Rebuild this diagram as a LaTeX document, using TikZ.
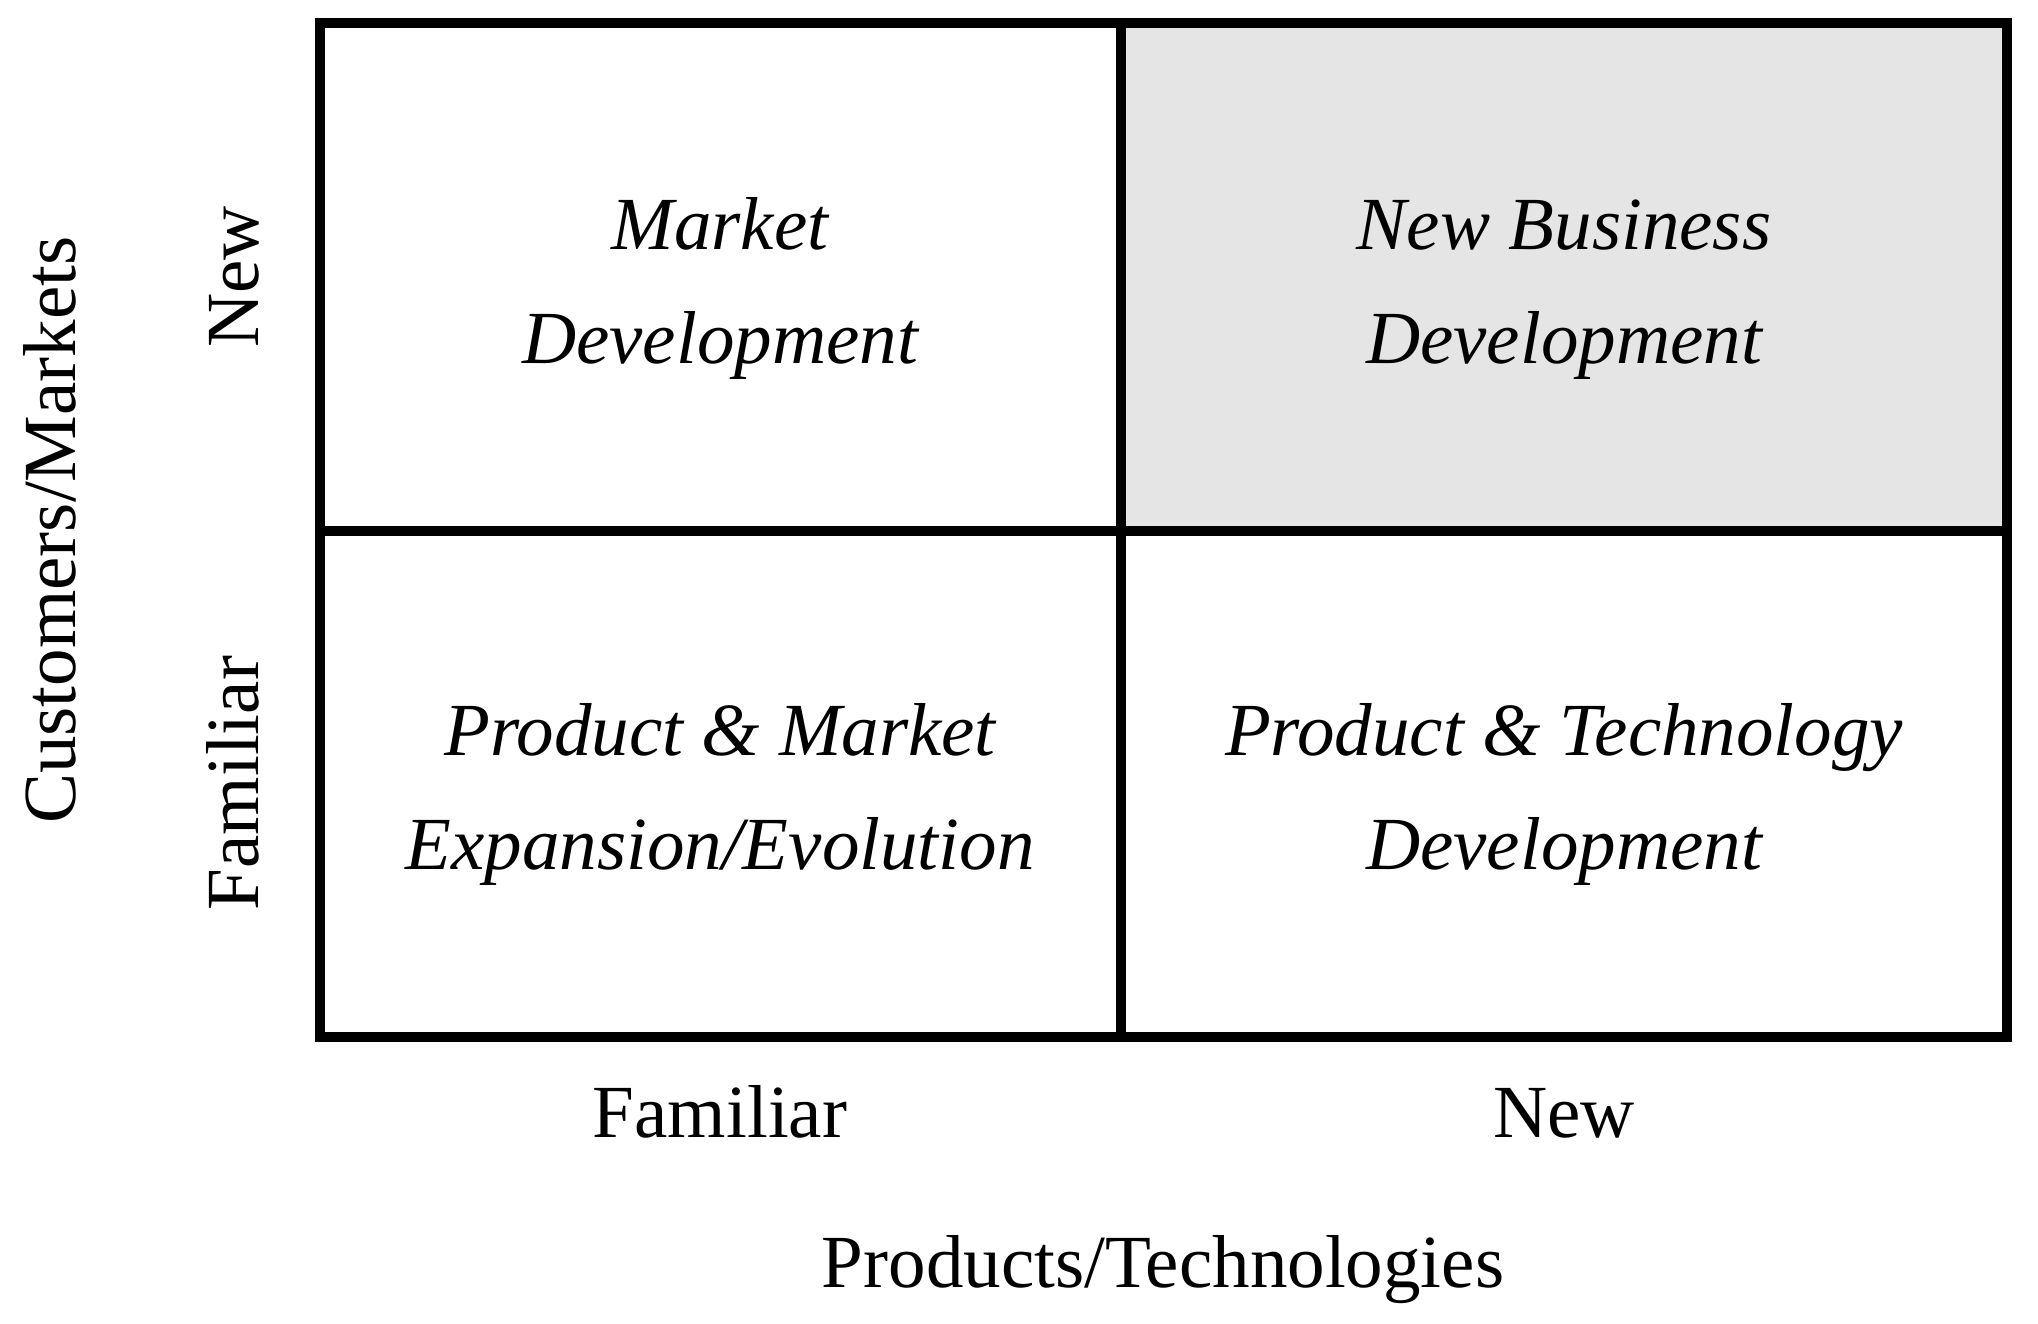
\documentclass[tikz,border=0pt]{standalone}
\usepackage{fontspec}
\setmainfont{Liberation Serif}
\begin{document}
\begin{tikzpicture}[x=0.5pt,y=-0.5pt,
  gridline/.style={line width=5pt,draw=black},
  lbl/.style={font=\fontsize{37.5}{57}\selectfont,inner sep=0pt,anchor=base},
  cell/.style={lbl,align=center,font=\fontsize{37.5}{57}\selectfont\itshape}]
\useasboundingbox (0,0) rectangle (2038,1323);
\coordinate (tl) at (320,23);
\coordinate (br) at (2007,1037);
\coordinate (mt) at (1121,23);
\coordinate (mb) at (1121,1037);
\coordinate (ml) at (320,531);
\coordinate (mr) at (2007,531);
\fill[black!10] (mt) rectangle (mr);
\draw[gridline] (tl) rectangle (br);
\draw[gridline] (mt) -- (mb);
\draw[gridline] (ml) -- (mr);
\node[cell] (md) at (720,363) {Market\\Development};
\node[cell] (nbd) at (1564,363) {New Business\\Development};
\node[cell] (pme) at (720,869) {Product \& Market\\Expansion/Evolution};
\node[cell] (ptd) at (1564,869) {Product \& Technology\\Development};
\node[lbl] (xf) at (720,1137) {Familiar};
\node[lbl] (xn) at (1564,1137) {New};
\node[lbl] (xt) at (1163,1287) {Products/Technologies};
\node[lbl,rotate=90] (yn) at (258,277) {New};
\node[lbl,rotate=90] (yf) at (258,783) {Familiar};
\node[lbl,rotate=90] (yt) at (75,530) {Customers/Markets};
\end{tikzpicture}
\end{document}
